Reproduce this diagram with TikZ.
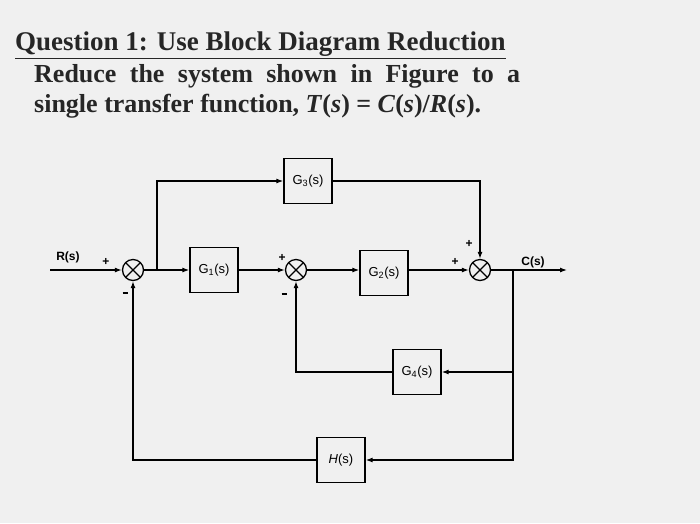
\documentclass[tikz,border=0pt]{standalone}
\usepackage{fontspec}
\setmainfont{Liberation Serif}
\newfontfamily\lbl{Liberation Sans}
\usetikzlibrary{arrows.meta}
\begin{document}
\begin{tikzpicture}[x=1pt,y=-1pt,
  blk/.style={draw,line width=1.3pt,minimum width=48pt,minimum height=45pt,font=\lbl\fontsize{13}{14}\selectfont},
  sumj/.style={draw,line width=1.3pt,circle,minimum size=21pt,inner sep=0pt,path picture={\draw[line width=1.3pt] (path picture bounding box.north west)--(path picture bounding box.south east) (path picture bounding box.north east)--(path picture bounding box.south west);}},
  ar/.style={line width=1.2pt,-{Latex[length=7pt,width=5pt]}},
  sg/.style={font=\lbl\bfseries\fontsize{12}{12}\selectfont,inner sep=1pt},
  txt/.style={anchor=west,inner sep=0pt,text=black!85}]
\fill[black!6] (0,0) rectangle (700,523);
\useasboundingbox (0,0) rectangle (700,523);
\node[txt,font=\bfseries\fontsize{27}{28}\selectfont] (t1) at (15,45) {\underline{Question 1: Use Block Diagram Reduction}};
\node[txt,font=\bfseries\fontsize{26}{27}\selectfont] (t2) at (34,76) {\makebox[486pt][s]{Reduce the system shown in Figure to a}};
\node[txt,font=\bfseries\fontsize{26}{27}\selectfont] (t3) at (34,106) {single transfer function, \textit{T}(\textit{s}) = \textit{C}(\textit{s})/\textit{R}(\textit{s}).};
% nodes
\node[sumj] (s1) at (133,270) {};
\node[sumj] (s2) at (296,270) {};
\node[sumj] (s3) at (480,270) {};
\node[blk] (g1) at (214,270) {G\textsubscript{1}(s)};
\node[blk] (g2) at (384,273) {G\textsubscript{2}(s)};
\node[blk] (g3) at (308,181) {G\textsubscript{3}(s)};
\node[blk] (g4) at (417,372) {G\textsubscript{4}(s)};
\node[blk] (h) at (341,460) {\textit{H}(s)};
\coordinate (in) at (50,270);
\coordinate (out) at (567,270);
\coordinate (b1) at (157,270);
\coordinate (b2) at (513,270);
\node[sg] (rl) at (68,257) {R(s)};
\node[sg] (cl) at (533,262) {C(s)};
\node[sg] (p1) at (106,262) {+};
\node[sg] (m1) at (125,293) {\rule{5pt}{1.4pt}};
\node[sg] (p2) at (282,258) {+};
\node[sg] (m2) at (284,294) {\rule{5pt}{1.4pt}};
\node[sg] (p3a) at (469,244) {+};
\node[sg] (p3b) at (455,262) {+};
% connectors
\draw[ar] (in) -- (s1);
\draw[ar] (s1) -- (g1);
\draw[ar] (g1) -- (s2);
\draw[ar] (s2) -- (g2.west |- s2);
\draw[ar] (g2.east |- s3) -- (s3);
\draw[ar] (s3) -- (out);
\draw[ar] (b1) |- (g3);
\draw[ar] (g3) -| (s3);
\draw[ar] (b2) |- (g4);
\draw[ar] (g4) -| (s2);
\draw[ar] (b2) |- (h);
\draw[ar] (h) -| (s1);
\end{tikzpicture}
\end{document}
